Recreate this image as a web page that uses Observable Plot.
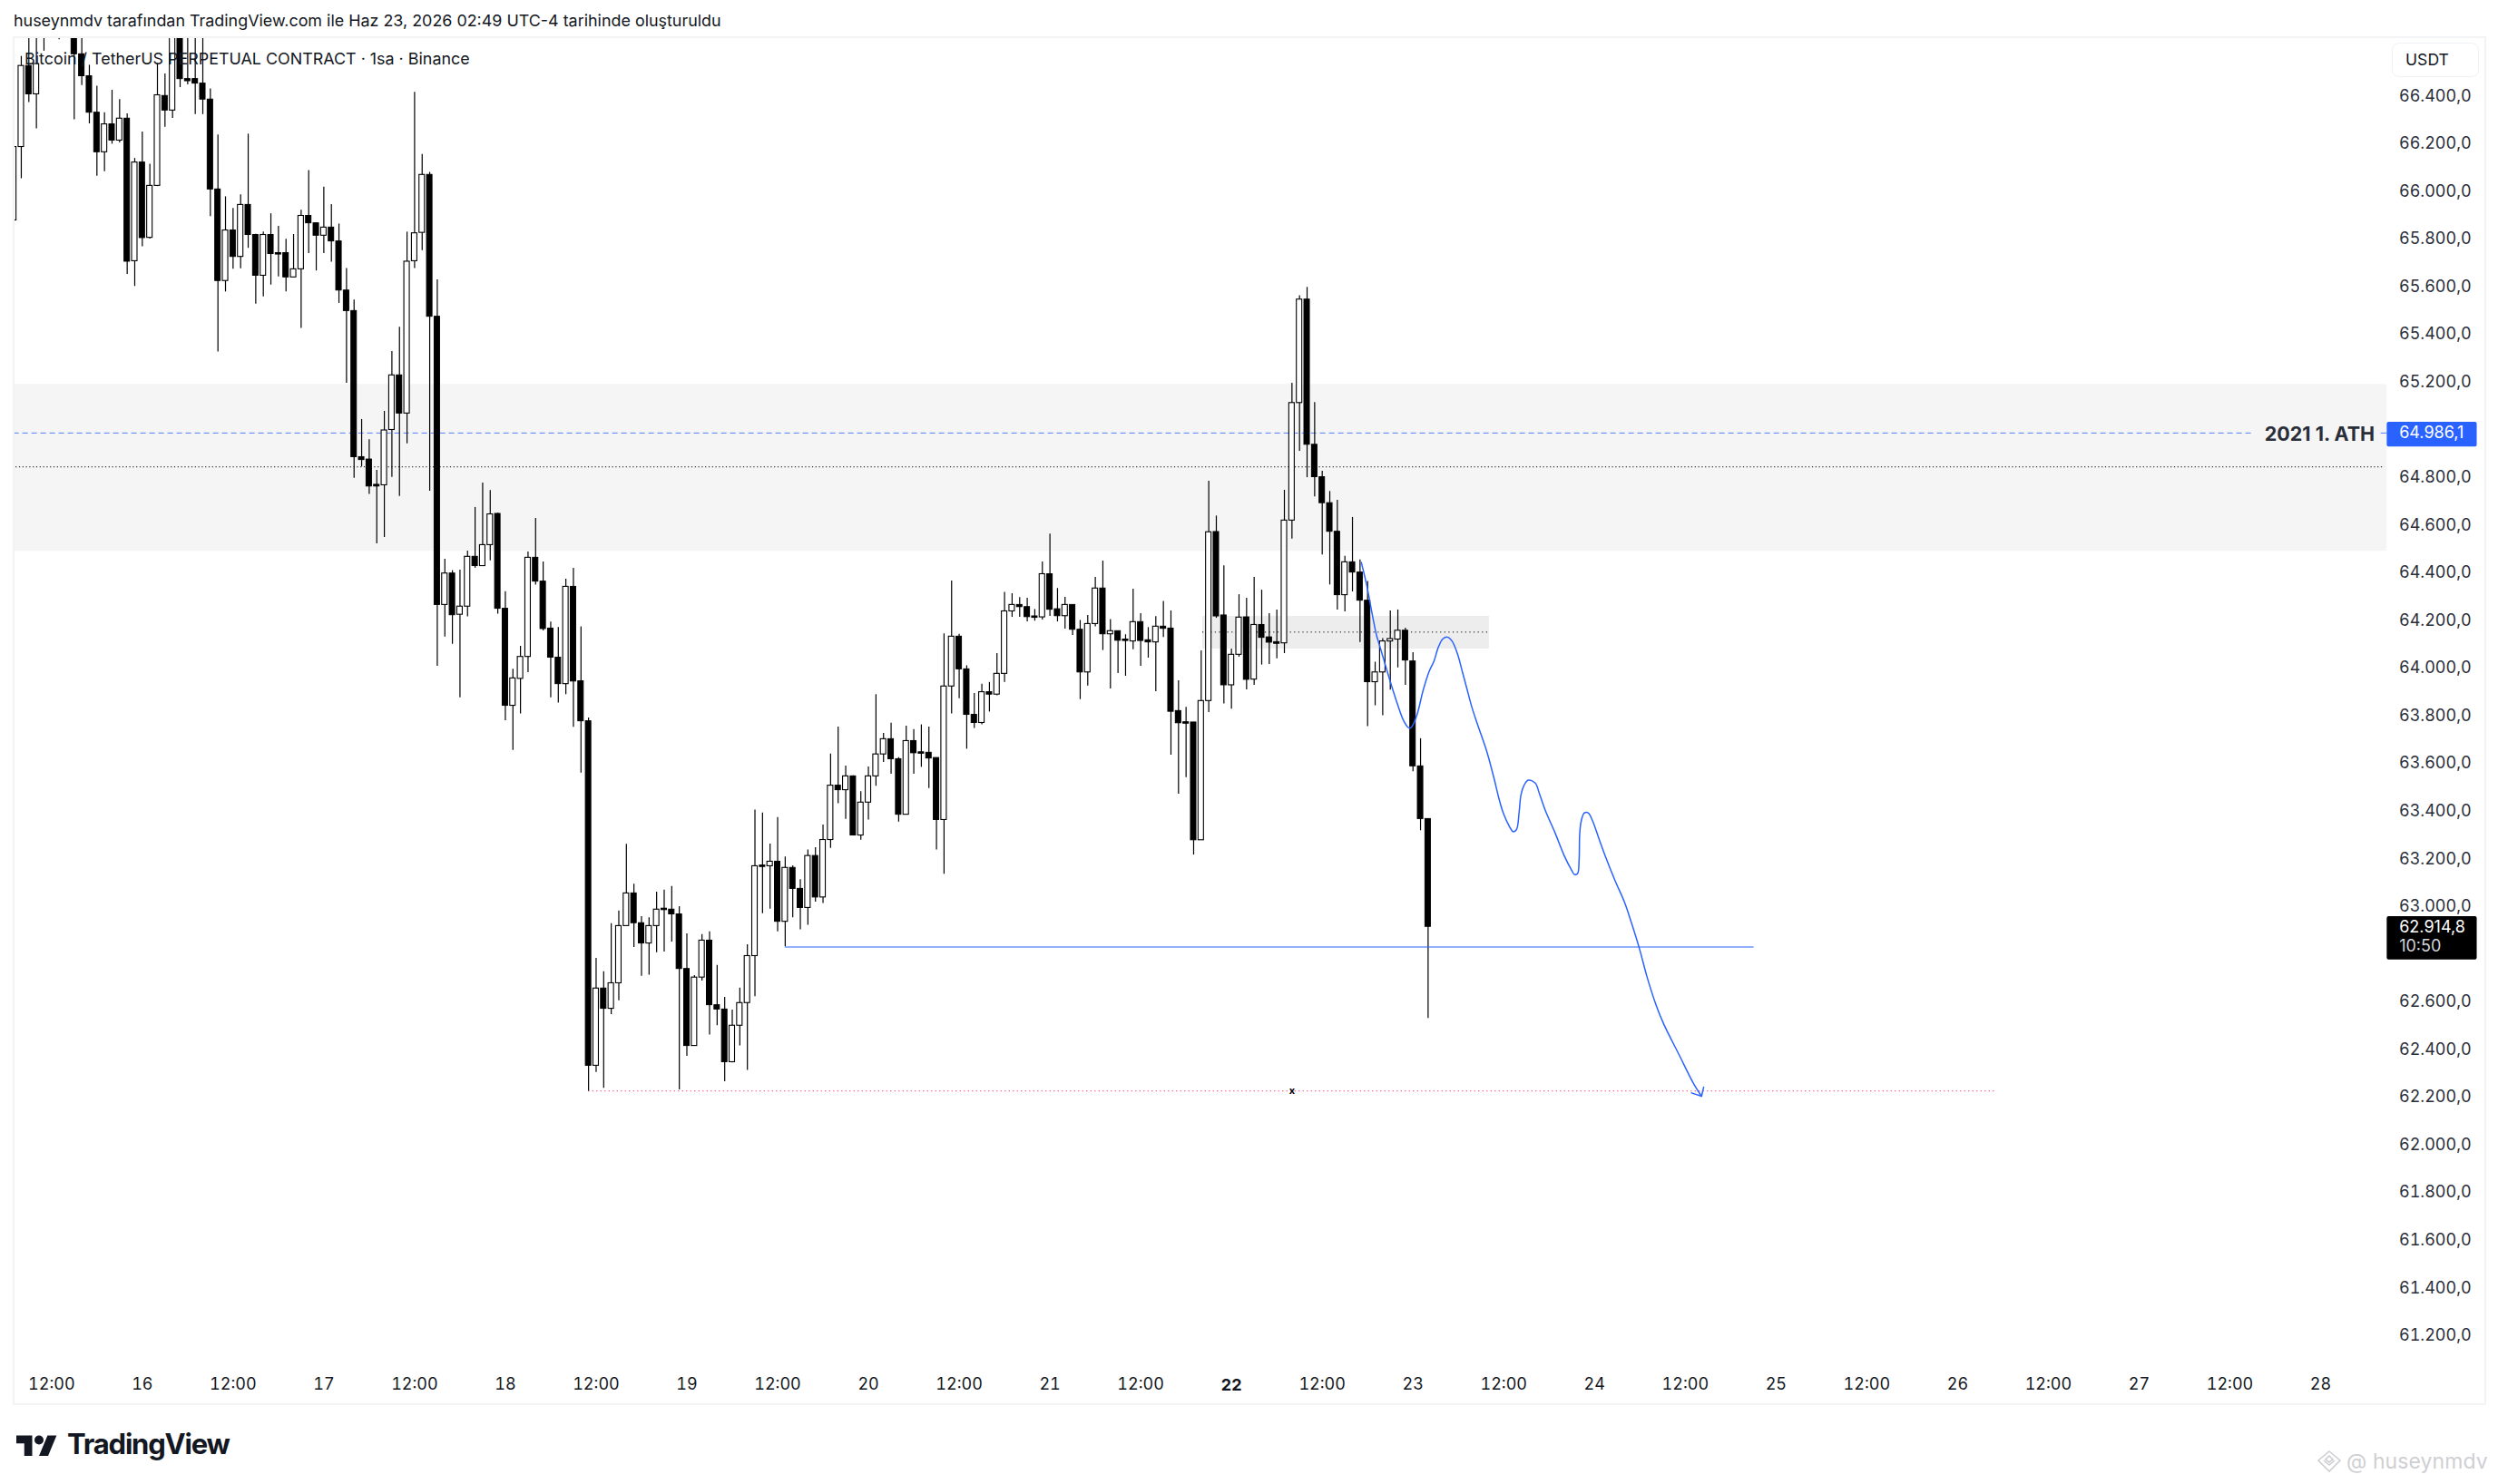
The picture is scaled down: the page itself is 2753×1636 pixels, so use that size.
<!DOCTYPE html>
<html lang="tr">
<head>
<meta charset="utf-8">
<title>BTCUSDT.P</title>
<script src="https://cdn.jsdelivr.net/npm/d3@7"></script>
<script src="https://cdn.jsdelivr.net/npm/@observablehq/plot@0.6"></script>
<style>
  html,body{margin:0;padding:0;background:#fff;width:2753px;height:1636px;overflow:hidden;font-family:Inter,"Noto Sans",sans-serif;color:#131722}
  #head{position:absolute;left:15px;top:11px;font-size:17.9px;line-height:24px;white-space:nowrap}
  #frame{position:absolute;left:14px;top:40px;width:2722px;height:1505px;border:2px solid #f2f3f5;box-sizing:content-box;pointer-events:none}
  #chart{position:absolute;left:0;top:41px}
  #symbol{position:absolute;left:27px;top:52.5px;font-size:17.9px;line-height:24px;white-space:nowrap;color:#131722}
  #unit{position:absolute;left:2636px;top:47px;width:94px;height:36px;border:1px solid #f0f1f4;border-radius:8px;font-size:17.6px;line-height:36px;text-indent:14px;box-sizing:content-box}
  #logo{position:absolute;left:18px;top:1575px;display:flex;align-items:center;gap:11px;font-size:31px;font-weight:700;letter-spacing:-1.2px;color:#131722;line-height:34px}
  #mark{position:absolute;left:2553px;top:1593px;display:flex;align-items:center;gap:5px;font-size:23px;color:#cfcfd3;letter-spacing:.1px;white-space:nowrap;line-height:36px}
</style>
</head>
<body>
<div id="head">huseynmdv tarafından TradingView.com ile Haz 23, 2026 02:49 UTC-4 tarihinde oluşturuldu</div>
<div id="chart"></div>
<div id="symbol">Bitcoin / TetherUS PERPETUAL CONTRACT · 1sa · Binance</div>
<div id="frame"></div>
<div id="unit">USDT</div>
<div id="logo"><svg width="45" height="25" viewBox="0 2 36 20"><path fill="#131722" d="M14 22H7V11H0V4h14v18zM28 22h-8l7.5-18h8L28 22z"/><circle fill="#131722" cx="20" cy="8" r="4"/></svg><span>TradingView</span></div>
<div id="mark"><svg width="28" height="26" viewBox="0 0 28 26" fill="none" stroke="#cfcfd3" stroke-width="1.6"><path d="M14 2 26 12 14 24 2 12Z"/><path d="M8 12l6 5 6-5M14 7l4 4-4 3-4-3z"/></svg><span>@ huseynmdv</span></div>
<script>
// Hourly BTCUSDT.P candles; the first one opens 5 h before 15 Jun 12:00 (axis time)
const opens = [
65878,66186,66526,66407,66700,66780,66850,66760,66690,66575,
66483,66330,66164,66281,66213,66305,65707,66121,65805,66023,
66400,66339,66660,66471,66471,66452,66385,66008,65624,65836,
65725,65943,65817,65646,65817,65741,65741,65639,65673,65897,
65866,65814,65848,65790,65584,65498,64885,64875,64769,64767,
64999,65228,65068,65707,65826,66069,65474,64265,64397,64224,
64258,64467,64428,64516,64647,64249,63842,63955,64047,64463,
64363,64166,64044,63933,64341,63945,63777,62332,62656,62571,
62678,62918,63055,62930,62845,62918,62991,62987,62967,62738,
62415,62702,62857,62586,62568,62347,62500,62595,62792,63172,
63169,63188,62936,63162,63074,62994,63212,63038,63279,63507,
63488,63546,63298,63436,63546,63638,63702,63618,63385,63694,
63647,63645,63623,63363,63923,64132,63995,63804,63770,63899,
63889,63976,64238,64265,64256,64217,64213,64394,64247,64218,
64265,64161,63982,64185,64334,64142,64155,64120,64112,64193,
64117,64108,64174,64166,63820,63773,63772,63278,63862,64571,
64221,63928,64056,64213,63952,64181,64129,64109,64104,64619,
65112,65546,64937,64801,64692,64572,64306,64444,64401,64283,
63941,63982,64112,64120,64157,64028,63588,63367];
const closes = [
66186,66526,66407,66534,66780,66850,66760,66690,66575,66483,
66330,66164,66281,66213,66305,65705,66121,65804,66023,66403,
66339,66660,66471,66462,66452,66385,66008,65624,65836,65725,
65943,65817,65646,65817,65737,65735,65639,65673,65897,65866,
65814,65848,65790,65584,65498,64885,64873,64762,64762,64997,
65228,65068,65705,65824,66069,65474,64265,64397,64222,64258,
64467,64428,64516,64645,64249,63842,63957,64047,64463,64363,
64164,64044,63933,64341,63944,63777,62332,62656,62571,62678,
62918,63055,62930,62845,62918,62987,62985,62967,62738,62415,
62702,62857,62586,62568,62347,62500,62595,62792,63169,63166,
63188,62936,63162,63074,62994,63212,63038,63279,63507,63488,
63546,63298,63436,63546,63638,63702,63618,63385,63694,63643,
63641,63621,63363,63923,64132,63995,63804,63770,63899,63889,
63976,64238,64265,64256,64214,64211,64394,64245,64218,64265,
64161,63982,64185,64334,64142,64155,64115,64114,64193,64114,
64108,64174,64165,63817,63769,63767,63278,63862,64570,64217,
63928,64056,64212,63951,64181,64127,64107,64102,64619,65112,
65546,64937,64801,64692,64572,64306,64444,64401,64283,63941,
63982,64112,64122,64157,64032,63588,63367,62914.8];
const highs = [
66213,66566,66700,66720,66850,66900,66900,66800,66720,66680,
66529,66441,66330,66424,66385,66325,66138,66249,66114,66537,
66492,66720,66720,66680,66660,66650,66430,66237,65977,65928,
65985,66240,65820,65829,65906,65853,65799,65819,65921,66087,
65866,66018,65945,65863,65676,65544,65043,64958,64830,65077,
65328,65430,65829,66415,66155,66080,65629,64457,64409,64411,
64491,64674,64776,64745,64650,64321,63995,64091,64487,64628,
64445,64193,64170,64373,64419,64173,63791,62783,62726,62928,
62981,63261,63094,62958,62953,63060,63069,63084,62999,62885,
62710,62882,62894,62753,62619,62566,62658,62840,63405,63392,
63262,63373,63208,63171,63113,63237,63247,63342,63640,63753,
63589,63548,63482,63585,63889,63726,63769,63624,63757,63742,
63762,63753,63623,64144,64365,64142,64010,63894,63933,63940,
64061,64318,64312,64296,64293,64246,64445,64562,64334,64297,
64265,64200,64221,64381,64449,64204,64155,64140,64331,64228,
64170,64216,64280,64240,63947,63836,63772,64072,64784,64638,
64429,64080,64308,64293,64381,64327,64228,64244,64746,65195,
65562,65597,65114,64826,64741,64704,64469,64632,64454,64364,
64025,64124,64240,64244,64168,64065,63704,63367];
const lows = [
65878,66053,66373,66262,66588,66700,66636,66660,66300,66444,
66283,66063,66082,66198,66203,65652,65601,65768,65800,66020,
66269,66306,66435,66447,66322,66322,65894,65326,65578,65673,
65675,65761,65527,65557,65607,65641,65578,65639,65425,65739,
65666,65739,65703,65530,65195,64796,64844,64729,64521,64548,
64800,64720,64941,65676,65751,64742,64008,64130,64100,63876,
64215,64419,64428,64450,64227,63779,63655,63808,63981,64348,
64156,63876,63854,63889,63752,63560,62225,62304,62237,62547,
62605,62918,62828,62707,62712,62806,62809,62851,62231,62372,
62415,62687,62461,62500,62265,62344,62415,62313,62622,62970,
62989,62894,62831,62953,62902,62921,63018,63013,63244,63431,
63366,63298,63278,63363,63505,63604,63555,63354,63385,63555,
63584,63495,63237,63135,63808,63872,63660,63747,63762,63816,
63884,63940,64213,64213,64194,64197,64202,64217,64194,64164,
64137,63868,63925,64173,64074,63913,63977,63966,64077,64008,
64042,63901,64129,63635,63471,63541,63216,63278,63814,64209,
63850,63828,64046,63909,63928,64013,64015,64039,64061,64541,
64910,64799,64718,64475,64349,64244,64236,64320,64108,63755,
63842,63800,63908,64001,63928,63565,63318,62530];

// Hand-drawn forecast (hours after 15 Jun 12:00, price)
const pathHours = [173.17,173.89,174.61,175.17,175.69,176.57,177.17,177.97,178.77,179.37,179.65,179.97,180.57,181.37,182.17,182.77,183.37,183.96,184.56,185.16,185.88,186.56,187.16,187.76,188.56,189.76,190.76,191.36,191.96,192.76,193.24,193.68,194.04,194.28,194.68,195.24,196.16,196.76,197.56,198.76,199.96,200.96,201.36,201.76,201.96,202.04,202.24,202.64,203.16,203.76,204.56,205.55,206.75,207.95,208.95,209.95,210.95,212.15,213.15,215.15,217.15,218.15];
const pathPrices = [64443,64347,64226,64139,64084,63989,63926,63847,63779,63751,63748,63760,63808,63910,63989,64029,64089,64123,64130,64114,64060,63981,63910,63839,63761,63650,63532,63453,63390,63335,63314,63322,63398,63469,63508,63530,63518,63469,63398,63311,63216,63153,63134,63138,63193,63303,63358,63392,63393,63358,63287,63201,63106,63019,62925,62822,62704,62586,62507,62380,62254,62204];
const arrowHours = [216.83,218.15,218.43];
const arrowPrices = [62218,62204,62242];

const priceTicks = [61200,61400,61600,61800,62000,62200,62400,62600,63000,63200,63400,63600,63800,64000,64200,64400,64600,64800,65200,65400,65600,65800,66000,66200,66400];
const athPrice = 64986.1, lastPrice = 62914.8, countdown = "10:50";
const zoneHigh = 65190, zoneLow = 64490, zoneMid = 64844;
const boxHigh = 64217, boxLow = 64080, boxMid = 64151;
const levelBlue = 62830, levelRed = 62226;

const H = 3600e3, T0 = Date.UTC(2026,5,15,12), T1 = Date.UTC(2026,5,28,0);
const at = h => new Date(T0 + h*H);
const candles = opens.map((o,i)=>({t:at(i-5),o,c:closes[i],h:highs[i],l:lows[i]}));
const up = candles.filter(d=>d.c>=d.o), down = candles.filter(d=>d.c<d.o);
const bx1 = d=>new Date(+d.t-0.36*H), bx2 = d=>new Date(+d.t+0.36*H);
const path = pathHours.map((h,i)=>({t:at(h),p:pathPrices[i]}));
const arrow = arrowHours.map((h,i)=>({t:at(h),p:arrowPrices[i]}));

const tickHours = d3.range(0,301,12);
const tickDates = tickHours.map(at);
const fmtX = d => d.getUTCHours()===12 ? "12:00" : String(d.getUTCDate());
const fmtY = v => { const s=d3.format(",.1f")(v); return s.replace(/,/g,"#").replace(/\./,",").replace(/#/g,"."); };
const day22 = tickDates.filter(d=>d.getUTCHours()===0&&d.getUTCDate()===22);
const otherTicks = tickDates.filter(d=>!(d.getUTCHours()===0&&d.getUTCDate()===22));

const BLUE="#2962ff", RED="#f23670", INK="#131722", AXIS="#2a2e39";
const seg = (a,b,p)=>[{a:at(a),b:at(b),p}];
const band = (a,b,lo,hi)=>[{a:at(a),b:at(b),lo,hi}];

const chart = Plot.plot({
  width:2753, height:1505,
  marginLeft:15, marginRight:123, marginTop:0, marginBottom:44,
  style:{fontFamily:"Inter, 'Noto Sans', sans-serif", fontSize:"18px", background:"transparent", color:AXIS, overflow:"visible"},
  x:{type:"utc", domain:[new Date(T0),new Date(T1)], range:[56.3,2557]},
  y:{type:"linear", domain:[61200,66400], range:[1430.9,64.3]},
  marks:[
    Plot.rect(band(-20,320,zoneLow,zoneHigh),{x1:"a",x2:"b",y1:"lo",y2:"hi",fill:"#f5f5f5",clip:"frame"}),
    Plot.rect(band(152.2,190.1,boxLow,boxHigh),{x1:"a",x2:"b",y1:"lo",y2:"hi",fill:"#ededed",clip:"frame"}),
    Plot.ruleY(seg(-4.7,308.5,zoneMid),{y:"p",x1:"a",x2:"b",stroke:"#000",strokeWidth:1,strokeDasharray:"1.2 2.6",clip:"frame"}),
    Plot.ruleY(seg(152.2,190.1,boxMid),{y:"p",x1:"a",x2:"b",stroke:"#000",strokeWidth:1,strokeDasharray:"1.2 3.4",clip:"frame"}),
    Plot.ruleY(seg(-5,291,athPrice),{y:"p",x1:"a",x2:"b",stroke:BLUE,strokeOpacity:.8,strokeWidth:1,strokeDasharray:"6 4",clip:"frame"}),
    Plot.ruleY(seg(308,309,athPrice),{y:"p",x1:"a",x2:"b",stroke:BLUE,strokeOpacity:.8,strokeWidth:1,clip:"frame"}),
    Plot.ruleY(seg(71,257,levelRed),{y:"p",x1:"a",x2:"b",stroke:RED,strokeWidth:1.1,strokeDasharray:"1.3 3.2",clip:"frame"}),
    Plot.ruleX(candles,{x:"t",y1:"l",y2:"h",stroke:"#000",strokeWidth:1.2,clip:"frame"}),
    Plot.rect(down,{x1:bx1,x2:bx2,y1:"o",y2:"c",fill:"#000",stroke:"#000",strokeWidth:1,clip:"frame"}),
    Plot.rect(up,{x1:bx1,x2:bx2,y1:"o",y2:"c",fill:"#fff",stroke:"#000",strokeWidth:1.1,clip:"frame"}),
    Plot.ruleY(seg(97,225.1,levelBlue),{y:"p",x1:"a",x2:"b",stroke:BLUE,strokeWidth:1.2,clip:"frame"}),
    Plot.line(path,{x:"t",y:"p",stroke:BLUE,strokeWidth:1.5,curve:"catmull-rom",clip:"frame"}),
    Plot.line(arrow,{x:"t",y:"p",stroke:BLUE,strokeWidth:1.5,clip:"frame"}),
    Plot.text([{t:at(164),p:levelRed}],{x:"t",y:"p",text:()=>"x",fontSize:11,fontWeight:700,fill:"#000"}),
    Plot.text([{t:at(307.15),p:athPrice}],{x:"t",y:"p",dy:1.5,text:()=>"2021 1. ATH",textAnchor:"end",fontSize:21.5,fontWeight:700,fill:"#2a2e39",style:"letter-spacing:1.7px;word-spacing:4px"}),
    Plot.axisY(priceTicks,{anchor:"right",tickSize:0,tickPadding:13.5,tickFormat:fmtY,label:null,fill:AXIS,fontSize:18}),
    Plot.axisX(otherTicks,{anchor:"bottom",tickSize:0,tickPadding:17,tickFormat:fmtX,label:null,fill:INK,fontSize:18}),
    Plot.text(day22,{x:d=>d,y:()=>60992,text:fmtX,fontWeight:700,fill:INK,fontSize:18}),
    // price tags on the axis
    Plot.rect(band(308.8,320.7,64928,65031),{x1:"a",x2:"b",y1:"lo",y2:"hi",fill:BLUE,rx:2}),
    Plot.text([{t:at(310.4),p:athPrice}],{x:"t",y:"p",text:()=>fmtY(athPrice),textAnchor:"start",fill:"#fff",fontSize:18}),
    Plot.rect(band(308.8,320.7,62776,62958),{x1:"a",x2:"b",y1:"lo",y2:"hi",fill:"#000",rx:2}),
    Plot.text([{t:at(310.4),p:lastPrice}],{x:"t",y:"p",text:()=>fmtY(lastPrice),textAnchor:"start",fill:"#fff",fontSize:18}),
    Plot.text([{t:at(310.4),p:62834}],{x:"t",y:"p",text:()=>countdown,textAnchor:"start",fill:"#d1d4dc",fontSize:18})
  ]
});
document.getElementById("chart").append(chart);
</script>
</body>
</html>
